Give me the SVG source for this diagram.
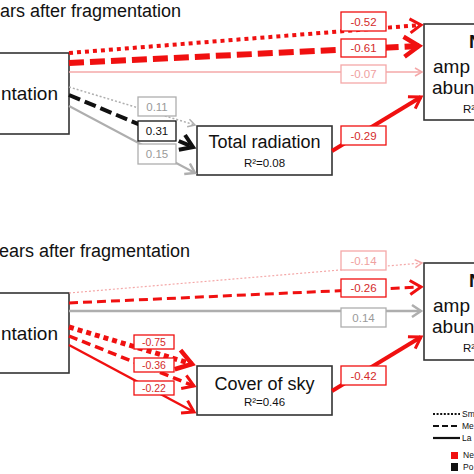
<svg xmlns="http://www.w3.org/2000/svg" width="474" height="474" viewBox="0 0 474 474">
<style>
text{font-family:"Liberation Sans",Arial,sans-serif;}
.node{fill:#fff;stroke:#333;stroke-width:1.6;}
.title{font-size:18px;fill:#111;}
.big{font-size:18px;fill:#111;}
.side{font-size:19px;fill:#111;}
.r2{font-size:11.5px;fill:#111;}
.lbl{fill:#fff;stroke-width:1.3;}
.lt{font-size:11.5px;text-anchor:middle;}
.lts{font-size:10.5px;text-anchor:middle;}
.red{stroke:#f01010;}
.pink{stroke:#f4a8a8;}
.gray{stroke:#aeaeae;}
.blk{stroke:#111;}
.tred{fill:#d42a2a;}
.tpink{fill:#efa0a0;}
.tgray{fill:#9a9a9a;}
.tblk{fill:#111;}
.ln{fill:none;stroke-linecap:butt;}
.leg{font-size:8.5px;fill:#111;}
</style>
<defs>
<marker id="mPinkS" markerUnits="userSpaceOnUse" viewBox="-20 -10 22 20" markerWidth="22" markerHeight="20" refX="0" refY="0" orient="auto" overflow="visible"><path d="M-7,-4 L0,0 L-7,4" fill="none" stroke="#f4a8a8" stroke-width="1.5"/></marker>
<marker id="mGrayS" markerUnits="userSpaceOnUse" viewBox="-20 -10 22 20" markerWidth="22" markerHeight="20" refX="0" refY="0" orient="auto" overflow="visible"><path d="M-7,-4 L0,0 L-7,4" fill="none" stroke="#aeaeae" stroke-width="1.5"/></marker>
<marker id="mGrayM" markerUnits="userSpaceOnUse" viewBox="-20 -10 22 20" markerWidth="22" markerHeight="20" refX="0" refY="0" orient="auto" overflow="visible"><path d="M-9,-6 L0,0 L-9,6" fill="none" stroke="#aeaeae" stroke-width="2.5"/></marker>
<marker id="mRedM" markerUnits="userSpaceOnUse" viewBox="-20 -10 22 20" markerWidth="22" markerHeight="20" refX="0" refY="0" orient="auto" overflow="visible"><path d="M-11,-7 L0,0 L-11,7" fill="none" stroke="#f01010" stroke-width="3"/></marker>
<marker id="mRedL" markerUnits="userSpaceOnUse" viewBox="-20 -10 22 20" markerWidth="22" markerHeight="20" refX="0" refY="0" orient="auto" overflow="visible"><path d="M-15,-10 L0,0 L-15,10" fill="none" stroke="#f01010" stroke-width="4.5"/></marker>
<marker id="mBlkM" markerUnits="userSpaceOnUse" viewBox="-20 -10 22 20" markerWidth="22" markerHeight="20" refX="0" refY="0" orient="auto" overflow="visible"><path d="M-12,-8 L0,0 L-12,8" fill="none" stroke="#111" stroke-width="4"/></marker>
</defs>
<rect width="474" height="474" fill="#fff"/>

<text class="title" x="0" y="17">ars after fragmentation</text>
<text class="title" x="-1" y="257">ears after fragmentation</text>

<g id="frag-top"><rect class="node" x="-3" y="53" width="72" height="81"/><text class="big" x="58" y="100" text-anchor="end" style="font-size:19px">ntation</text></g>
<g id="amph-top"><rect class="node" x="424" y="24" width="60" height="96"/>
<text class="side" x="469" y="48" font-weight="bold">N</text>
<text class="side" x="433" y="73">amp</text>
<text class="side" x="432" y="94">abun</text>
<text class="r2" x="463" y="113">R²</text></g>
<g id="radiation"><rect class="node" x="197" y="126" width="135" height="49"/>
<text class="big" x="264.5" y="148" text-anchor="middle">Total radiation</text>
<text class="r2" x="264.5" y="167" text-anchor="middle">R²=0.08</text></g>

<g id="frag-bot"><rect class="node" x="-3" y="293" width="72" height="80"/><text class="big" x="58" y="340" text-anchor="end" style="font-size:19px">ntation</text></g>
<g id="amph-bot"><rect class="node" x="424" y="263" width="60" height="97"/>
<text class="side" x="469" y="287" font-weight="bold">N</text>
<text class="side" x="433" y="312">amp</text>
<text class="side" x="432" y="333">abun</text>
<text class="r2" x="463" y="352">R²</text></g>
<g id="sky"><rect class="node" x="197" y="366" width="135" height="49"/>
<text class="big" x="264.5" y="390" text-anchor="middle">Cover of sky</text>
<text class="r2" x="264.5" y="406" text-anchor="middle">R²=0.46</text></g>

<g id="connectors">
<line class="ln red" x1="69" y1="53" x2="421" y2="25" stroke-width="4" stroke-dasharray="4 4" marker-end="url(#mRedM)"/>
<line class="ln red" x1="69" y1="63" x2="419" y2="46" stroke-width="6" stroke-dasharray="15 6" marker-end="url(#mRedL)"/>
<line class="ln pink" x1="69" y1="72" x2="422" y2="72" stroke-width="1.5" marker-end="url(#mPinkS)"/>
<line class="ln red" x1="332" y1="151" x2="421" y2="97" stroke-width="4" marker-end="url(#mRedM)"/>
<line class="ln gray" x1="69" y1="87" x2="195" y2="125" stroke-width="1.5" stroke-dasharray="2 2" marker-end="url(#mGrayS)"/>
<line class="ln blk" x1="69" y1="95" x2="193" y2="147" stroke-width="4" stroke-dasharray="12 5" marker-end="url(#mBlkM)"/>
<line class="ln gray" x1="69" y1="106" x2="195" y2="173" stroke-width="2" marker-end="url(#mGrayM)"/>

<line class="ln pink" x1="69" y1="293" x2="422" y2="263" stroke-width="1.2" stroke-dasharray="2 2" marker-end="url(#mPinkS)"/>
<line class="ln red" x1="69" y1="303" x2="421" y2="287" stroke-width="3" stroke-dasharray="9 5" marker-end="url(#mRedM)"/>
<line class="ln gray" x1="69" y1="311" x2="421" y2="311" stroke-width="2.5" marker-end="url(#mGrayM)"/>
<line class="ln red" x1="332" y1="391" x2="421" y2="337" stroke-width="4" marker-end="url(#mRedM)"/>
<line class="ln red" x1="69" y1="327" x2="192" y2="364" stroke-width="5" stroke-dasharray="5 4" marker-end="url(#mRedL)"/>
<line class="ln red" x1="69" y1="336" x2="194" y2="386" stroke-width="3.5" stroke-dasharray="9 5" marker-end="url(#mRedM)"/>
<line class="ln red" x1="69" y1="345" x2="194" y2="412" stroke-width="2.5" marker-end="url(#mRedM)"/>

<g id="lbl-052"><rect class="lbl red" x="341" y="12" width="45" height="19"/><text class="lt tred" x="363.5" y="25.5">-0.52</text></g>
<g id="lbl-061"><rect class="lbl red" x="341" y="39" width="45" height="18"/><text class="lt tred" x="363.5" y="52">-0.61</text></g>
<g id="lbl-007"><rect class="lbl pink" x="341" y="65" width="45" height="18"/><text class="lt tpink" x="363.5" y="78">-0.07</text></g>
<g id="lbl-029"><rect class="lbl red" x="341" y="126" width="45" height="19"/><text class="lt tred" x="363.5" y="139.5">-0.29</text></g>
<g id="lbl-011"><rect class="lbl gray" x="138" y="97" width="38" height="19"/><text class="lt tgray" x="157" y="110.5">0.11</text></g>
<g id="lbl-031"><rect class="lbl blk" x="138" y="121" width="38" height="20"/><text class="lt tblk" x="157" y="135">0.31</text></g>
<g id="lbl-015"><rect class="lbl gray" x="138" y="144" width="38" height="20"/><text class="lt tgray" x="157" y="158">0.15</text></g>

<g id="lbl-014n"><rect class="lbl pink" x="341" y="251" width="45" height="19"/><text class="lt tpink" x="363.5" y="264.5">-0.14</text></g>
<g id="lbl-026"><rect class="lbl red" x="341" y="279" width="45" height="18"/><text class="lt tred" x="363.5" y="292">-0.26</text></g>
<g id="lbl-014"><rect class="lbl gray" x="341" y="308" width="45" height="19"/><text class="lt tgray" x="363.5" y="321.5">0.14</text></g>
<g id="lbl-042"><rect class="lbl red" x="341" y="366" width="45" height="19"/><text class="lt tred" x="363.5" y="379.5">-0.42</text></g>
<g id="lbl-075"><rect class="lbl red" x="134" y="335" width="40" height="14"/><text class="lts tred" x="154" y="345.5">-0.75</text></g>
<g id="lbl-036"><rect class="lbl red" x="134" y="358" width="40" height="14"/><text class="lts tred" x="154" y="368.5">-0.36</text></g>
<g id="lbl-022"><rect class="lbl red" x="134" y="381" width="40" height="14"/><text class="lts tred" x="154" y="391.5">-0.22</text></g>
</g>

<g id="legend">
<line x1="433" y1="414" x2="460" y2="414" stroke="#111" stroke-width="2" stroke-dasharray="2 1.6"/>
<line x1="433" y1="426" x2="460" y2="426" stroke="#111" stroke-width="2.2" stroke-dasharray="6 3"/>
<line x1="433" y1="438" x2="460" y2="438" stroke="#111" stroke-width="2.2"/>
<rect x="451" y="452" width="7" height="7" fill="#f01010"/>
<rect x="451" y="463" width="7" height="8" fill="#111"/>
<text class="leg" x="462" y="417">Sm</text>
<text class="leg" x="462" y="429">Me</text>
<text class="leg" x="462" y="441">La</text>
<text class="leg" x="463" y="458">Ne</text>
<text class="leg" x="463" y="470">Po</text>
</g>
</svg>
